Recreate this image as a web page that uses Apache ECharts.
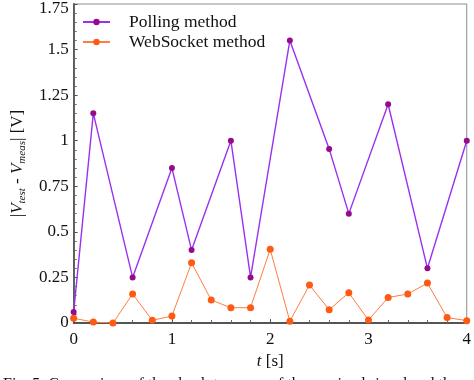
<!DOCTYPE html>
<html>
<head>
<meta charset="utf-8">
<script src="https://cdn.jsdelivr.net/npm/echarts@6/dist/echarts.min.js"></script>
<style>
html,body{margin:0;padding:0;background:#fff;}
#c{width:474px;height:380px;}
</style>
</head>
<body>
<div id="c"></div>
<script>
// ---- data ----
const seriesNames = ['Polling method', 'WebSocket method'];
const tPolling = [0, 0.2, 0.6, 1.0, 1.2, 1.6, 1.8, 2.2, 2.6, 2.8, 3.2, 3.6, 4.0];
const polling  = [0.06, 1.15, 0.25, 0.85, 0.40, 1.00, 0.25, 1.55, 0.955, 0.60, 1.20, 0.30, 1.00];
const tWebSocket = [0, 0.2, 0.4, 0.6, 0.8, 1.0, 1.2, 1.4, 1.6, 1.8, 2.0, 2.2, 2.4, 2.6, 2.8, 3.0, 3.2, 3.4, 3.6, 3.8, 4.0];
const webSocket  = [0.026, 0.005, 0.0, 0.159, 0.015, 0.038, 0.33, 0.126, 0.084, 0.084, 0.404, 0.01, 0.208, 0.073, 0.166, 0.016, 0.14, 0.159, 0.219, 0.03, 0.013];
const xTicks = [0, 1, 2, 3, 4];
const yTicks = [0, 0.25, 0.5, 0.75, 1, 1.25, 1.5, 1.75];

const FONT = "'Liberation Serif', 'Times New Roman', serif";
const pair = (xs, ys) => xs.map((x, i) => [x, ys[i]]);

const chart = echarts.init(document.getElementById('c'), null, {renderer: 'canvas'});
chart.setOption({
  animation: false,
  backgroundColor: '#fff',
  textStyle: {fontFamily: FONT},
  grid: {left: 66, right: 5, top: 3, bottom: 57, show: true, borderColor: '#8c8c8c', borderWidth: 1},
  legend: {
    orient: 'vertical', left: 82, top: 12, padding: 0, itemGap: 0,
    itemWidth: 27, itemHeight: 8,
    textStyle: {fontFamily: FONT, fontSize: 17.5, color: '#111', lineHeight: 20, padding: [0, 0, 0, 14]},
    data: seriesNames
  },
  xAxis: {
    type: 'value', min: xTicks[0], max: xTicks[xTicks.length - 1], interval: 1,
    name: '{i|t} [s]', nameLocation: 'middle', nameGap: 27,
    nameTextStyle: {fontFamily: FONT, fontSize: 17, color: '#111',
      rich: {i: {fontFamily: FONT, fontSize: 17, fontStyle: 'italic', color: '#111'}}},
    axisLine: {lineStyle: {color: '#555', width: 1.8}},
    axisTick: {inside: true, length: 4, lineStyle: {color: '#555'}},
    minorTick: {show: true, splitNumber: 5, length: 3, lineStyle: {color: '#666'}},
    splitLine: {show: false},
    axisLabel: {fontFamily: FONT, fontSize: 17, color: '#111', margin: 8}
  },
  yAxis: {
    type: 'value', min: yTicks[0], max: yTicks[yTicks.length - 1], interval: 0.25,
    name: '|{vi|V}{s|test} - {vi|V}{s|meas}| [V]', nameLocation: 'middle', nameGap: 38, nameRotate: 90,
    nameTextStyle: {fontFamily: FONT, fontSize: 17, color: '#111', lineHeight: 20,
      rich: {
        vi: {fontFamily: FONT, fontSize: 17, fontStyle: 'italic', color: '#111', lineHeight: 20},
        s: {fontFamily: FONT, fontSize: 11, fontStyle: 'italic', color: '#111', lineHeight: 12, verticalAlign: 'bottom'}
      }},
    axisLine: {show: true, lineStyle: {color: '#555', width: 1.8}},
    axisTick: {show: true, inside: true, length: 4, lineStyle: {color: '#555'}},
    minorTick: {show: true, splitNumber: 5, length: 3, lineStyle: {color: '#666'}},
    splitLine: {show: false},
    axisLabel: {
      fontFamily: FONT, fontSize: 17, color: '#111', margin: 5,
      formatter: v => (Math.abs(v - yTicks[yTicks.length - 1]) < 1e-9 ? '{t|' + v + '}' : String(v)),
      rich: {t: {fontFamily: FONT, fontSize: 17, color: '#111', padding: [9, 0, 0, 0]}}
    }
  },
  series: [
    {
      name: seriesNames[0], type: 'line', data: pair(tPolling, polling), z: 3,
      symbol: 'circle', symbolSize: 6,
      lineStyle: {color: '#9b30f0', width: 1.4},
      itemStyle: {color: '#960a8c'}
    },
    {
      name: seriesNames[1], type: 'line', data: pair(tWebSocket, webSocket), z: 2,
      symbol: 'circle', symbolSize: 7,
      lineStyle: {color: '#ff7d40', width: 1},
      itemStyle: {color: '#ff5a14'}
    }
  ],
  graphic: [{
    type: 'text', left: 3, top: 377,
    style: {text: 'Fig. 5. Comparison of the absolute errors of the received signal and the', font: '16px ' + FONT, fill: '#111'}
  }]
});
</script>
</body>
</html>
